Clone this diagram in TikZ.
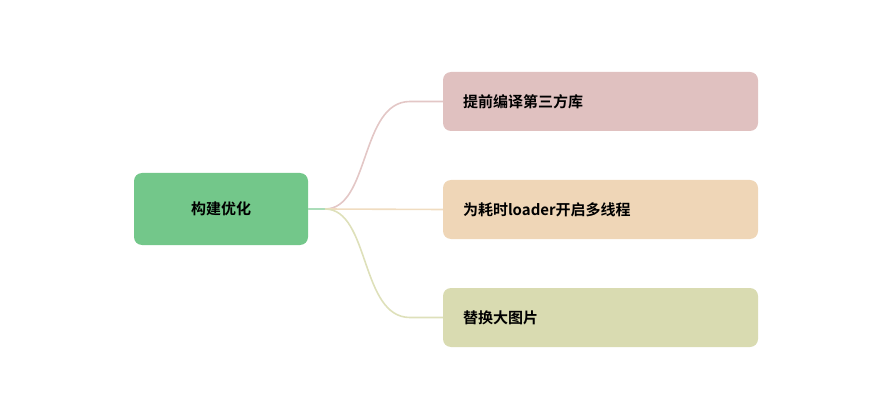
\documentclass[tikz,border=0pt]{standalone}
\usepackage{fontspec}
\setmainfont{Noto Sans CJK SC}[BoldFont={Noto Sans CJK SC Bold}]
\definecolor{rootc}{HTML}{73C78A}
\definecolor{c1}{HTML}{E0C1C0}
\definecolor{c2}{HTML}{EFD6B7}
\definecolor{c3}{HTML}{D9DBB1}
\definecolor{l1}{HTML}{E3C7C6}
\definecolor{l2}{HTML}{F0DCC0}
\definecolor{l3}{HTML}{DEE0BA}
\begin{document}
\begin{tikzpicture}[x=1pt,y=-1pt,
  box/.style={rounded corners=8pt,inner sep=0pt,font=\bfseries\fontsize{15}{18}\selectfont},
  child/.style={box,minimum width=315pt,minimum height=59pt,text width=275pt,align=left},
  link/.style={line width=1.6pt}]
\useasboundingbox (0,0) rectangle (878,414);
\node[box,fill=rootc,minimum width=174pt,minimum height=72pt] (root) at (221,209) {构建优化};
\coordinate (hub) at (325,209);
\node[child,fill=c1] (a) at (600.5,101.5) {提前编译第三方库};
\node[child,fill=c2] (b) at (600.5,209.5) {为耗时loader开启多线程};
\node[child,fill=c3] (c) at (600.5,317.5) {替换大图片};
\draw[link,color=rootc!60] (root.east) -- (hub);
\draw[link,l1] (hub) .. controls (370,209) and (360,101.5) .. (410,101.5) -- (a.west);
\draw[link,l2] (hub) -- (b.west);
\draw[link,l3] (hub) .. controls (370,209) and (360,317.5) .. (410,317.5) -- (c.west);
\end{tikzpicture}
\end{document}
